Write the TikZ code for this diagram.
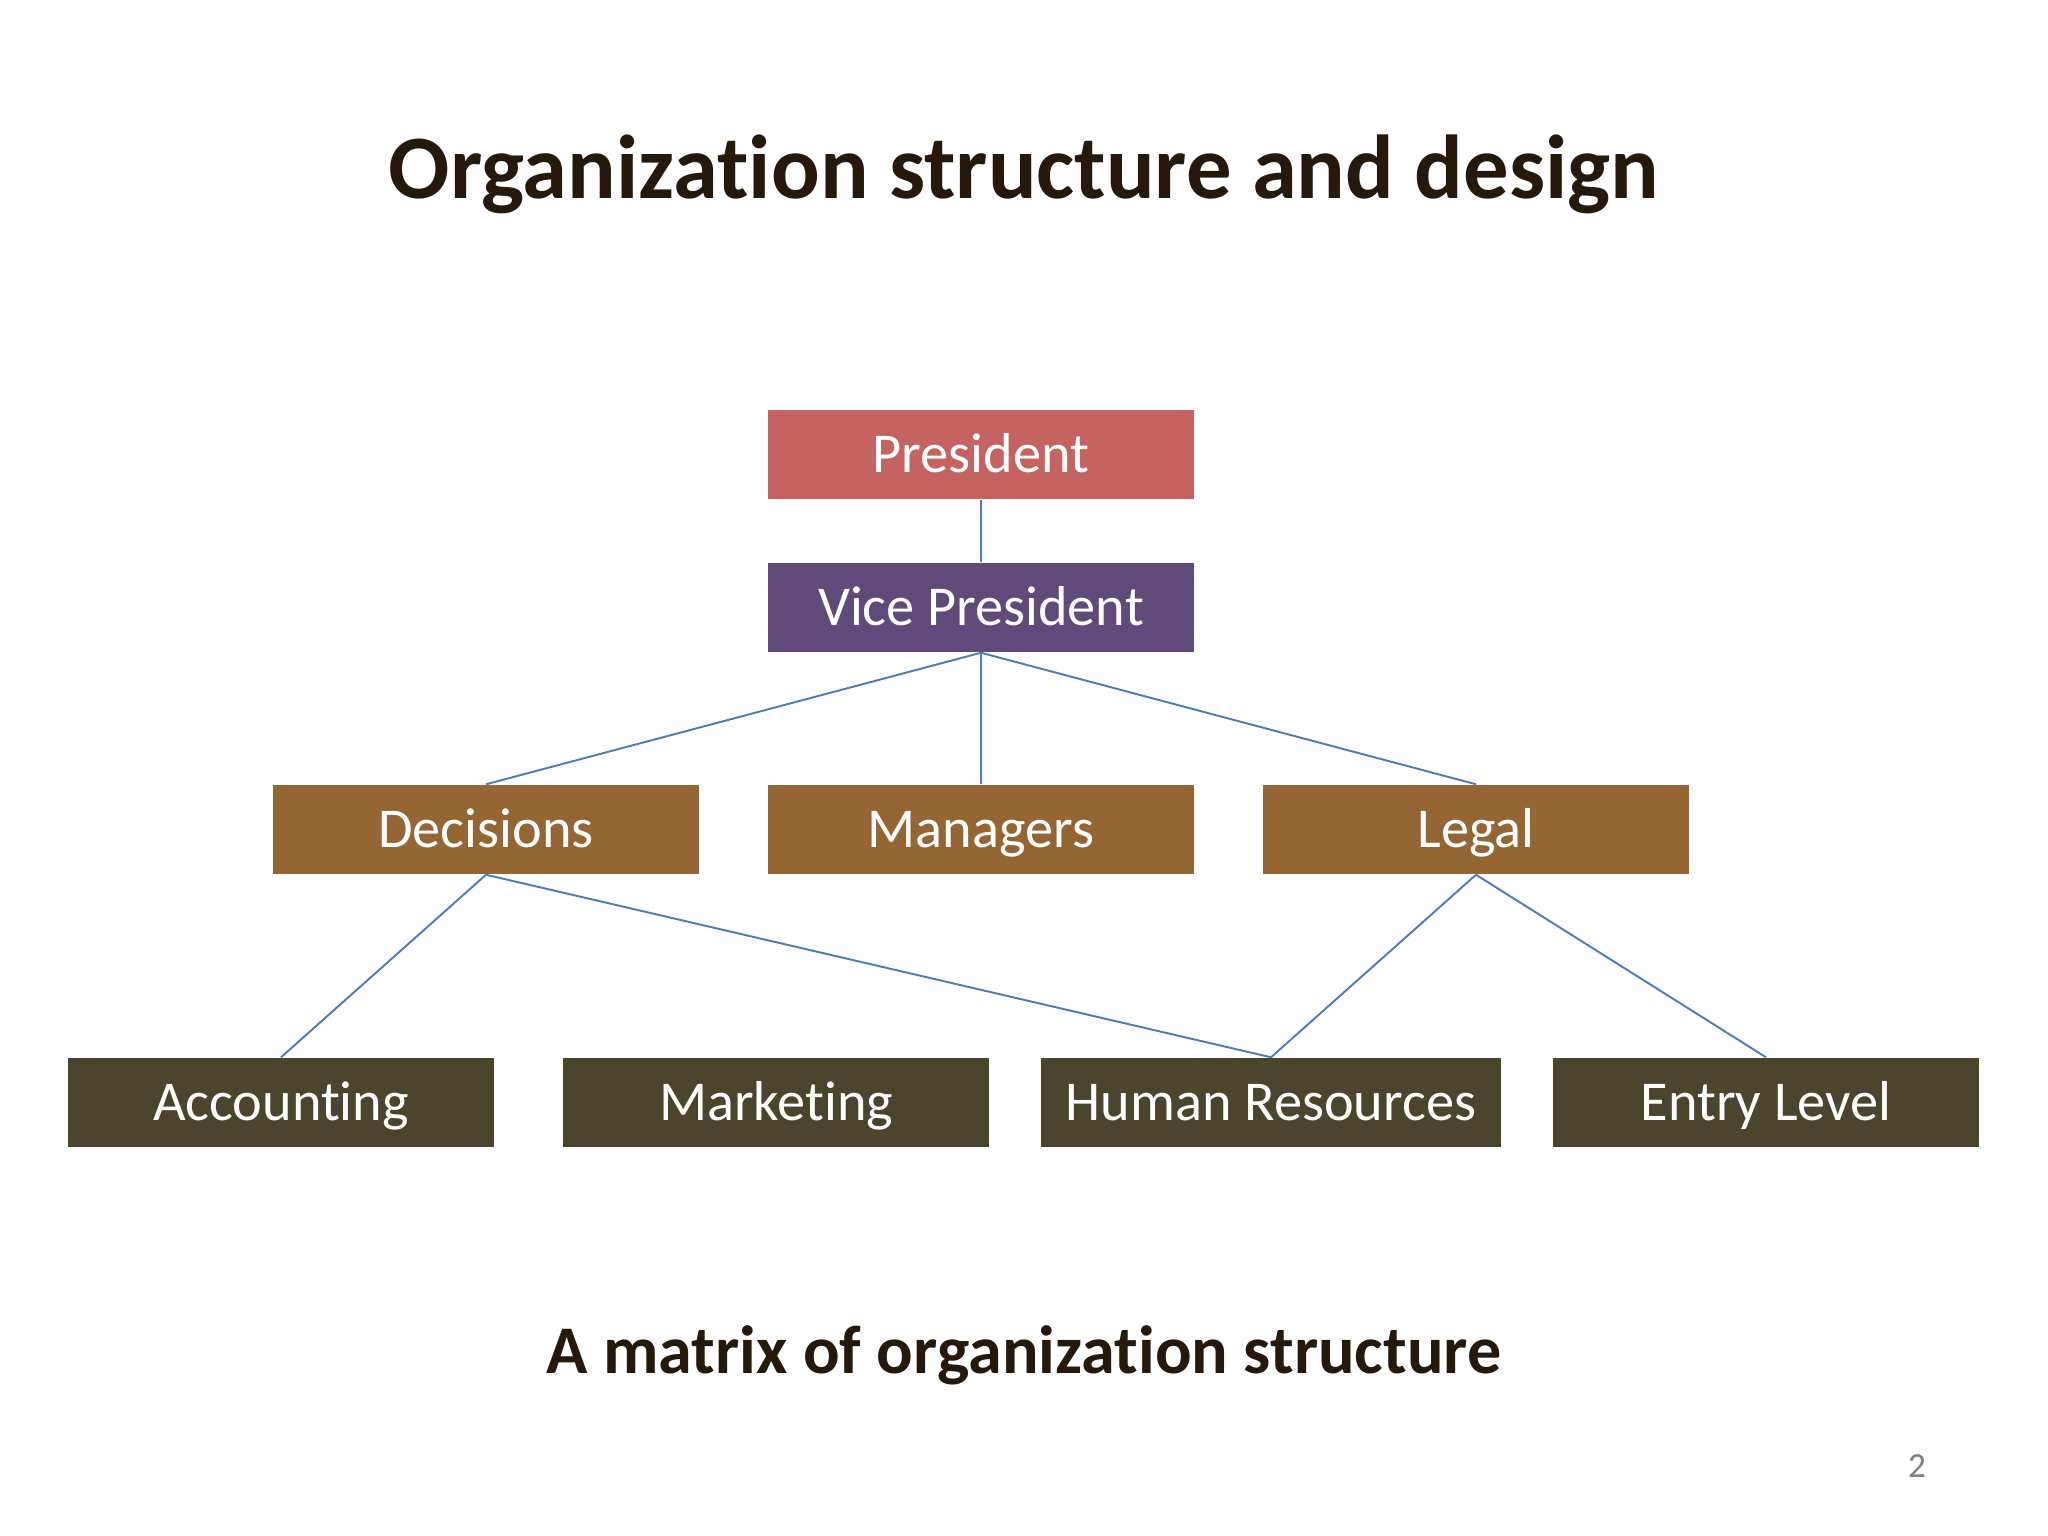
\documentclass[tikz,border=0pt]{standalone}
\usepackage{fontspec}
\setmainfont[Ligatures={NoCommon}]{Carlito}
\definecolor{redbox}{HTML}{C46361}
\definecolor{violetbox}{HTML}{5F4A79}
\definecolor{brownbox}{HTML}{966534}
\definecolor{olivebox}{HTML}{4A452C}
\definecolor{linkblue}{HTML}{4A7EBB}
\definecolor{titlebrown}{HTML}{27190A}
\begin{document}
\begin{tikzpicture}[x=0.01cm,y=-0.01cm,
  box/.style={inner sep=0pt,minimum width=4.26cm,minimum height=0.89cm,text height=10.5pt,text depth=0pt,text=white,font=\fontsize{16}{19}\selectfont},
  link/.style={draw=linkblue,line width=0.55pt}]
\useasboundingbox[fill=white] (0,0) rectangle (2048,1536);
\node[anchor=base,text=titlebrown,font=\fontsize{25.8}{30}\selectfont\bfseries] (title) at (1024,198) {Organization structure and design};
\node[box,fill=redbox] (pres) at (981,454.5) {President};
\node[box,fill=violetbox] (vp) at (981,607.5) {Vice President};
\node[box,fill=brownbox] (dec) at (486,829.5) {Decisions};
\node[box,fill=brownbox] (man) at (981,829.5) {Managers};
\node[box,fill=brownbox] (leg) at (1476,829.5) {Legal};
\node[box,fill=olivebox] (acc) at (281,1102.5) {Accounting};
\node[box,fill=olivebox] (mkt) at (776,1102.5) {Marketing};
\node[box,fill=olivebox,minimum width=4.6cm] (hr) at (1271,1102.5) {Human Resources};
\node[box,fill=olivebox] (ent) at (1766,1102.5) {Entry Level};
\foreach \u/\v in {pres/vp,vp/dec,vp/man,vp/leg,dec/acc,dec/hr,leg/hr,leg/ent}
  \draw[link] (\u.south)--(\v.north);
\node[anchor=base,text=titlebrown,font=\fontsize{19.4}{23}\selectfont\bfseries] (caption) at (1024,1373) {A matrix of organization structure};
\node[anchor=base,text=gray,font=\fontsize{10}{12}\selectfont] (page) at (1917,1477) {2};
\end{tikzpicture}
\end{document}
